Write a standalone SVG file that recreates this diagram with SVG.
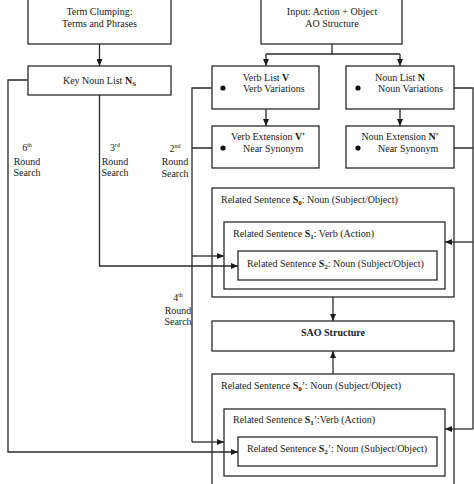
<svg xmlns="http://www.w3.org/2000/svg" width="474" height="484" viewBox="0 0 474 484" font-family="'Liberation Serif', 'Times New Roman', serif">
<style>
.box{fill:none;stroke:#2a2a2a;stroke-width:1.3}
.ln{fill:none;stroke:#2a2a2a;stroke-width:1.3}
text{font-family:'Liberation Serif','Times New Roman',serif;font-size:10px;fill:#1a1a1a}
.c{text-anchor:middle}
.b{font-weight:bold}
.sub{font-size:7px;font-weight:bold}
.sup{font-size:6px}
</style>
<defs>
<marker id="ah" markerWidth="7" markerHeight="6" refX="7" refY="3" orient="auto" markerUnits="userSpaceOnUse">
<path d="M0,0 L7,3 L0,6 Z" fill="#1a1a1a"/>
</marker>
</defs>
<rect width="474" height="484" fill="#fff"/>
<g id="term-clumping">
<rect class="box" x="28" y="-2" width="143" height="46"/>
<text class="c" x="99.5" y="14.5">Term Clumping:</text>
<text class="c" x="99.5" y="26.5">Terms and Phrases</text>
</g>
<g id="input">
<rect class="box" x="261" y="-2" width="141" height="46"/>
<text class="c" x="332" y="14.5">Input: Action + Object</text>
<text class="c" x="332" y="26.5">AO Structure</text>
</g>
<g id="key-noun-list">
<rect class="box" x="28" y="66" width="143" height="29"/>
<text class="c" x="99.5" y="84">Key Noun List <tspan class="b">N</tspan><tspan class="sub" dy="2">S</tspan></text>
</g>
<g id="verb-list">
<rect class="box" x="212" y="66" width="107" height="43"/>
<text class="c" x="266" y="80.5">Verb List <tspan class="b">V</tspan></text>
<circle cx="223" cy="88" r="2.6" fill="#111"/>
<text x="243" y="91.5">Verb Variations</text>
</g>
<g id="noun-list">
<rect class="box" x="346" y="66" width="108" height="43"/>
<text class="c" x="400" y="80.5">Noun List <tspan class="b">N</tspan></text>
<circle cx="358" cy="88" r="2.6" fill="#111"/>
<text x="378" y="91.5">Noun Variations</text>
</g>
<g id="verb-extension">
<rect class="box" x="212" y="126" width="107" height="42"/>
<text class="c" x="268" y="139.5">Verb Extension <tspan class="b">V'</tspan></text>
<circle cx="223" cy="148" r="2.6" fill="#111"/>
<text x="243" y="151.5">Near Synonym</text>
</g>
<g id="noun-extension">
<rect class="box" x="346" y="126" width="108" height="42"/>
<text class="c" x="400" y="139.5">Noun Extension <tspan class="b">N'</tspan></text>
<circle cx="358" cy="148" r="2.6" fill="#111"/>
<text x="378" y="151.5">Near Synonym</text>
</g>
<g id="s0">
<rect class="box" x="212" y="188" width="242" height="109"/>
<text x="221" y="202.5">Related Sentence <tspan class="b">S</tspan><tspan class="sub" dy="2">0</tspan><tspan dy="-2">: Noun (Subject/Object)</tspan></text>
</g>
<g id="s1">
<rect class="box" x="224" y="222" width="221" height="67"/>
<text x="233" y="236.5">Related Sentence <tspan class="b">S</tspan><tspan class="sub" dy="2">1</tspan><tspan dy="-2">: Verb (Action)</tspan></text>
</g>
<g id="s2">
<rect class="box" x="238" y="251" width="199" height="29"/>
<text x="247" y="266.5">Related Sentence <tspan class="b">S</tspan><tspan class="sub" dy="2">2</tspan><tspan dy="-2">: Noun (Subject/Object)</tspan></text>
</g>
<g id="sao">
<rect class="box" x="212" y="321" width="242" height="30"/>
<text class="c b" x="333" y="335.5">SAO Structure</text>
</g>
<g id="s0p">
<rect class="box" x="212" y="374" width="242" height="116"/>
<text x="221" y="388.5">Related Sentence <tspan class="b">S</tspan><tspan class="sub" dy="2">0</tspan><tspan dy="-2">’: Noun (Subject/Object)</tspan></text>
</g>
<g id="s1p">
<rect class="box" x="224" y="409" width="221" height="67"/>
<text x="233" y="422.5">Related Sentence <tspan class="b">S</tspan><tspan class="sub" dy="2">1</tspan><tspan dy="-2">’:Verb (Action)</tspan></text>
</g>
<g id="s2p">
<rect class="box" x="238" y="437" width="199" height="29"/>
<text x="247" y="451.5">Related Sentence <tspan class="b">S</tspan><tspan class="sub" dy="2">2</tspan><tspan dy="-2">’: Noun (Subject/Object)</tspan></text>
</g>
<g id="connectors">
<path class="ln" d="M99.5,44 V66" marker-end="url(#ah)"/>
<path class="ln" d="M332,44 V54 M266,54 H400"/>
<path class="ln" d="M266,54 V66" marker-end="url(#ah)"/>
<path class="ln" d="M400,54 V66" marker-end="url(#ah)"/>
<path class="ln" d="M266,109 V126" marker-end="url(#ah)"/>
<path class="ln" d="M400,109 V126" marker-end="url(#ah)"/>
<path class="ln" d="M212,88 H192 V442 M212,148 H192"/>
<path class="ln" d="M192,256 H224" marker-end="url(#ah)"/>
<path class="ln" d="M192,442 H224" marker-end="url(#ah)"/>
<path class="ln" d="M454,88 H473 V429 M454,148 H473"/>
<path class="ln" d="M473,242 H445" marker-end="url(#ah)"/>
<path class="ln" d="M473,429 H445" marker-end="url(#ah)"/>
<path class="ln" d="M28,80 H8 V452 H238" marker-end="url(#ah)"/>
<path class="ln" d="M99.5,95 V266 H238" marker-end="url(#ah)"/>
<path class="ln" d="M333,297 V321" marker-end="url(#ah)"/>
<path class="ln" d="M333,374 V351" marker-end="url(#ah)"/>
</g>
<g id="labels">
<text class="c" x="27" y="151">6<tspan class="sup" dy="-4">th</tspan></text>
<text class="c" x="27" y="164.5">Round</text>
<text class="c" x="27" y="175.5">Search</text>
<text class="c" x="115" y="151">3<tspan class="sup" dy="-4">rd</tspan></text>
<text class="c" x="115" y="164.5">Round</text>
<text class="c" x="115" y="175.5">Search</text>
<text class="c" x="175" y="152">2<tspan class="sup" dy="-4">nd</tspan></text>
<text class="c" x="175" y="164.5">Round</text>
<text class="c" x="175" y="176.5">Search</text>
<text class="c" x="178" y="300.5">4<tspan class="sup" dy="-4">th</tspan></text>
<text class="c" x="178" y="313.5">Round</text>
<text class="c" x="178" y="324.5">Search</text>
</g>
</svg>
